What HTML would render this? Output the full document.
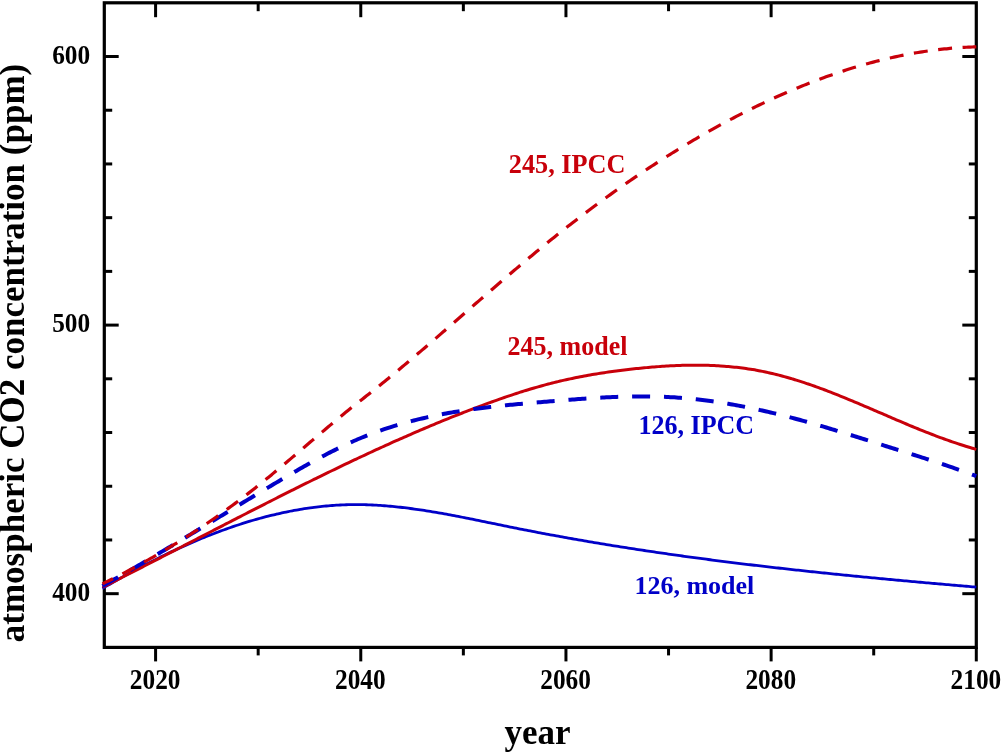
<!DOCTYPE html>
<html><head><meta charset="utf-8"><title>Atmospheric CO2 concentration</title>
<style>html,body{margin:0;padding:0;background:#fff;overflow:hidden;}svg{display:block;}</style>
</head><body>
<svg width="1002" height="752" viewBox="0 0 1002 752">
<rect width="1002" height="752" fill="#fff"/>
<g stroke="#000" stroke-width="3" fill="none"><rect x="104.30" y="2.80" width="872.00" height="644.60" fill="none" stroke="#000" stroke-width="3.2"/><line x1="155.59" y1="647.40" x2="155.59" y2="661.40"/><line x1="155.59" y1="2.80" x2="155.59" y2="17.20"/><line x1="258.18" y1="647.40" x2="258.18" y2="655.40"/><line x1="258.18" y1="2.80" x2="258.18" y2="11.20"/><line x1="360.77" y1="647.40" x2="360.77" y2="661.40"/><line x1="360.77" y1="2.80" x2="360.77" y2="17.20"/><line x1="463.36" y1="647.40" x2="463.36" y2="655.40"/><line x1="463.36" y1="2.80" x2="463.36" y2="11.20"/><line x1="565.95" y1="647.40" x2="565.95" y2="661.40"/><line x1="565.95" y1="2.80" x2="565.95" y2="17.20"/><line x1="668.54" y1="647.40" x2="668.54" y2="655.40"/><line x1="668.54" y1="2.80" x2="668.54" y2="11.20"/><line x1="771.12" y1="647.40" x2="771.12" y2="661.40"/><line x1="771.12" y1="2.80" x2="771.12" y2="17.20"/><line x1="873.71" y1="647.40" x2="873.71" y2="655.40"/><line x1="873.71" y1="2.80" x2="873.71" y2="11.20"/><line x1="976.30" y1="647.40" x2="976.30" y2="661.40"/><line x1="104.30" y1="593.68" x2="118.70" y2="593.68"/><line x1="976.30" y1="593.68" x2="962.30" y2="593.68"/><line x1="104.30" y1="539.97" x2="112.20" y2="539.97"/><line x1="976.30" y1="539.97" x2="968.80" y2="539.97"/><line x1="104.30" y1="486.25" x2="112.20" y2="486.25"/><line x1="976.30" y1="486.25" x2="968.80" y2="486.25"/><line x1="104.30" y1="432.53" x2="112.20" y2="432.53"/><line x1="976.30" y1="432.53" x2="968.80" y2="432.53"/><line x1="104.30" y1="378.82" x2="112.20" y2="378.82"/><line x1="976.30" y1="378.82" x2="968.80" y2="378.82"/><line x1="104.30" y1="325.10" x2="118.70" y2="325.10"/><line x1="976.30" y1="325.10" x2="962.30" y2="325.10"/><line x1="104.30" y1="271.38" x2="112.20" y2="271.38"/><line x1="976.30" y1="271.38" x2="968.80" y2="271.38"/><line x1="104.30" y1="217.67" x2="112.20" y2="217.67"/><line x1="976.30" y1="217.67" x2="968.80" y2="217.67"/><line x1="104.30" y1="163.95" x2="112.20" y2="163.95"/><line x1="976.30" y1="163.95" x2="968.80" y2="163.95"/><line x1="104.30" y1="110.23" x2="112.20" y2="110.23"/><line x1="976.30" y1="110.23" x2="968.80" y2="110.23"/><line x1="104.30" y1="56.52" x2="118.70" y2="56.52"/><line x1="976.30" y1="56.52" x2="962.30" y2="56.52"/></g>
<path d="M102.50,588.42 C102.80,588.25 103.33,587.94 104.30,587.38 C105.27,586.82 106.97,585.83 108.30,585.06 C109.63,584.29 110.97,583.52 112.30,582.76 C113.63,582.00 114.97,581.24 116.30,580.48 C117.63,579.73 118.97,578.98 120.30,578.23 C121.63,577.49 122.97,576.75 124.30,576.01 C125.63,575.27 126.97,574.54 128.30,573.81 C129.63,573.08 130.97,572.35 132.30,571.63 C133.63,570.91 134.97,570.19 136.30,569.48 C137.63,568.77 138.97,568.06 140.30,567.36 C141.63,566.66 142.97,565.96 144.30,565.27 C145.63,564.58 146.97,563.88 148.30,563.20 C149.63,562.52 150.97,561.84 152.30,561.16 C153.63,560.48 154.97,559.82 156.30,559.15 C157.63,558.48 158.97,557.82 160.30,557.16 C161.63,556.50 162.97,555.86 164.30,555.21 C165.63,554.56 166.97,553.92 168.30,553.28 C169.63,552.64 170.97,552.01 172.30,551.39 C173.63,550.76 174.97,550.15 176.30,549.53 C177.63,548.91 178.97,548.30 180.30,547.69 C181.63,547.08 182.97,546.49 184.30,545.89 C185.63,545.29 186.97,544.71 188.30,544.12 C189.63,543.53 190.97,542.95 192.30,542.38 C193.63,541.81 194.97,541.24 196.30,540.68 C197.63,540.12 198.97,539.56 200.30,539.01 C201.63,538.46 202.97,537.91 204.30,537.37 C205.63,536.83 206.97,536.30 208.30,535.77 C209.63,535.24 210.97,534.72 212.30,534.20 C213.63,533.68 214.97,533.17 216.30,532.67 C217.63,532.16 218.97,531.66 220.30,531.17 C221.63,530.68 222.97,530.19 224.30,529.71 C225.63,529.23 226.97,528.75 228.30,528.28 C229.63,527.81 230.97,527.35 232.30,526.89 C233.63,526.43 234.97,525.98 236.30,525.54 C237.63,525.10 238.97,524.66 240.30,524.23 C241.63,523.80 242.97,523.37 244.30,522.95 C245.63,522.53 246.97,522.12 248.30,521.71 C249.63,521.31 250.97,520.91 252.30,520.52 C253.63,520.13 254.97,519.74 256.30,519.36 C257.63,518.98 258.97,518.61 260.30,518.24 C261.63,517.87 262.97,517.51 264.30,517.16 C265.63,516.81 266.97,516.47 268.30,516.13 C269.63,515.79 270.97,515.46 272.30,515.13 C273.63,514.80 274.97,514.49 276.30,514.18 C277.63,513.87 278.97,513.57 280.30,513.27 C281.63,512.97 282.97,512.68 284.30,512.40 C285.63,512.12 286.97,511.84 288.30,511.57 C289.63,511.30 290.97,511.04 292.30,510.79 C293.63,510.54 294.97,510.30 296.30,510.06 C297.63,509.82 298.97,509.58 300.30,509.36 C301.63,509.14 302.97,508.93 304.30,508.72 C305.63,508.51 306.97,508.30 308.30,508.11 C309.63,507.92 310.97,507.74 312.30,507.56 C313.63,507.38 314.97,507.21 316.30,507.05 C317.63,506.89 318.97,506.74 320.30,506.59 C321.63,506.44 322.97,506.30 324.30,506.17 C325.63,506.04 326.97,505.92 328.30,505.80 C329.63,505.69 330.97,505.58 332.30,505.48 C333.63,505.38 334.97,505.29 336.30,505.21 C337.63,505.13 338.97,505.06 340.30,504.99 C341.63,504.93 342.97,504.87 344.30,504.82 C345.63,504.77 346.97,504.73 348.30,504.70 C349.63,504.67 350.97,504.64 352.30,504.63 C353.63,504.62 354.97,504.61 356.30,504.61 C357.63,504.61 358.97,504.61 360.30,504.63 C361.63,504.65 362.97,504.68 364.30,504.71 C365.63,504.74 366.97,504.78 368.30,504.83 C369.63,504.88 370.97,504.93 372.30,504.99 C373.63,505.05 374.97,505.12 376.30,505.20 C377.63,505.27 378.97,505.35 380.30,505.44 C381.63,505.53 382.97,505.63 384.30,505.73 C385.63,505.83 386.97,505.94 388.30,506.06 C389.63,506.18 390.97,506.29 392.30,506.42 C393.63,506.55 394.97,506.68 396.30,506.82 C397.63,506.96 398.97,507.10 400.30,507.25 C401.63,507.40 402.97,507.55 404.30,507.71 C405.63,507.87 406.97,508.04 408.30,508.21 C409.63,508.38 410.97,508.56 412.30,508.74 C413.63,508.92 414.97,509.10 416.30,509.29 C417.63,509.48 418.97,509.67 420.30,509.87 C421.63,510.07 422.97,510.27 424.30,510.48 C425.63,510.69 426.97,510.90 428.30,511.11 C429.63,511.32 430.97,511.54 432.30,511.76 C433.63,511.98 434.97,512.21 436.30,512.44 C437.63,512.67 438.97,512.90 440.30,513.14 C441.63,513.38 442.97,513.61 444.30,513.85 C445.63,514.09 446.97,514.33 448.30,514.58 C449.63,514.83 450.97,515.08 452.30,515.33 C453.63,515.58 454.97,515.84 456.30,516.09 C457.63,516.35 458.97,516.60 460.30,516.86 C461.63,517.12 462.97,517.38 464.30,517.64 C465.63,517.90 466.97,518.17 468.30,518.44 C469.63,518.71 470.97,518.97 472.30,519.24 C473.63,519.51 474.97,519.78 476.30,520.05 C477.63,520.32 478.97,520.60 480.30,520.87 C481.63,521.14 482.97,521.42 484.30,521.69 C485.63,521.96 486.97,522.24 488.30,522.51 C489.63,522.78 490.97,523.06 492.30,523.33 C493.63,523.61 494.97,523.88 496.30,524.16 C497.63,524.43 498.97,524.71 500.30,524.98 C501.63,525.25 502.97,525.53 504.30,525.80 C505.63,526.07 506.97,526.34 508.30,526.61 C509.63,526.88 510.97,527.15 512.30,527.42 C513.63,527.69 514.97,527.96 516.30,528.23 C517.63,528.50 518.97,528.76 520.30,529.02 C521.63,529.28 522.97,529.55 524.30,529.81 C525.63,530.07 526.97,530.33 528.30,530.59 C529.63,530.85 530.97,531.11 532.30,531.37 C533.63,531.63 534.97,531.88 536.30,532.13 C537.63,532.38 538.97,532.65 540.30,532.90 C541.63,533.15 542.97,533.40 544.30,533.65 C545.63,533.90 546.97,534.15 548.30,534.40 C549.63,534.65 550.97,534.89 552.30,535.14 C553.63,535.39 554.97,535.64 556.30,535.88 C557.63,536.12 558.97,536.36 560.30,536.60 C561.63,536.84 562.97,537.09 564.30,537.33 C565.63,537.57 566.97,537.80 568.30,538.04 C569.63,538.28 570.97,538.51 572.30,538.75 C573.63,538.99 574.97,539.22 576.30,539.45 C577.63,539.68 578.97,539.92 580.30,540.15 C581.63,540.38 582.97,540.61 584.30,540.84 C585.63,541.07 586.97,541.30 588.30,541.53 C589.63,541.76 590.97,541.99 592.30,542.21 C593.63,542.44 594.97,542.66 596.30,542.88 C597.63,543.10 598.97,543.33 600.30,543.55 C601.63,543.77 602.97,543.99 604.30,544.21 C605.63,544.43 606.97,544.64 608.30,544.86 C609.63,545.08 610.97,545.29 612.30,545.51 C613.63,545.73 614.97,545.94 616.30,546.15 C617.63,546.36 618.97,546.58 620.30,546.79 C621.63,547.00 622.97,547.21 624.30,547.42 C625.63,547.63 626.97,547.84 628.30,548.05 C629.63,548.26 630.97,548.46 632.30,548.67 C633.63,548.88 634.97,549.08 636.30,549.29 C637.63,549.50 638.97,549.70 640.30,549.90 C641.63,550.10 642.97,550.30 644.30,550.50 C645.63,550.70 646.97,550.90 648.30,551.10 C649.63,551.30 650.97,551.50 652.30,551.70 C653.63,551.90 654.97,552.10 656.30,552.29 C657.63,552.48 658.97,552.68 660.30,552.87 C661.63,553.06 662.97,553.26 664.30,553.45 C665.63,553.64 666.97,553.83 668.30,554.02 C669.63,554.21 670.97,554.40 672.30,554.59 C673.63,554.78 674.97,554.97 676.30,555.16 C677.63,555.35 678.97,555.53 680.30,555.71 C681.63,555.89 682.97,556.09 684.30,556.27 C685.63,556.45 686.97,556.64 688.30,556.82 C689.63,557.00 690.97,557.18 692.30,557.36 C693.63,557.54 694.97,557.72 696.30,557.90 C697.63,558.08 698.97,558.26 700.30,558.44 C701.63,558.62 702.97,558.80 704.30,558.97 C705.63,559.14 706.97,559.32 708.30,559.49 C709.63,559.66 710.97,559.85 712.30,560.02 C713.63,560.19 714.97,560.36 716.30,560.53 C717.63,560.70 718.97,560.88 720.30,561.05 C721.63,561.22 722.97,561.38 724.30,561.55 C725.63,561.72 726.97,561.89 728.30,562.06 C729.63,562.23 730.97,562.39 732.30,562.56 C733.63,562.72 734.97,562.89 736.30,563.05 C737.63,563.21 738.97,563.38 740.30,563.54 C741.63,563.70 742.97,563.87 744.30,564.03 C745.63,564.19 746.97,564.36 748.30,564.52 C749.63,564.68 750.97,564.84 752.30,565.00 C753.63,565.16 754.97,565.31 756.30,565.47 C757.63,565.63 758.97,565.78 760.30,565.94 C761.63,566.10 762.97,566.25 764.30,566.41 C765.63,566.56 766.97,566.72 768.30,566.87 C769.63,567.02 770.97,567.19 772.30,567.34 C773.63,567.49 774.97,567.64 776.30,567.79 C777.63,567.94 778.97,568.09 780.30,568.24 C781.63,568.39 782.97,568.54 784.30,568.69 C785.63,568.84 786.97,568.99 788.30,569.14 C789.63,569.29 790.97,569.43 792.30,569.58 C793.63,569.73 794.97,569.87 796.30,570.02 C797.63,570.17 798.97,570.32 800.30,570.46 C801.63,570.61 802.97,570.75 804.30,570.89 C805.63,571.03 806.97,571.18 808.30,571.32 C809.63,571.46 810.97,571.61 812.30,571.75 C813.63,571.89 814.97,572.03 816.30,572.17 C817.63,572.31 818.97,572.45 820.30,572.59 C821.63,572.73 822.97,572.87 824.30,573.01 C825.63,573.15 826.97,573.28 828.30,573.42 C829.63,573.56 830.97,573.69 832.30,573.83 C833.63,573.97 834.97,574.10 836.30,574.24 C837.63,574.38 838.97,574.51 840.30,574.65 C841.63,574.78 842.97,574.92 844.30,575.05 C845.63,575.18 846.97,575.32 848.30,575.45 C849.63,575.58 850.97,575.71 852.30,575.84 C853.63,575.97 854.97,576.11 856.30,576.24 C857.63,576.37 858.97,576.50 860.30,576.63 C861.63,576.76 862.97,576.89 864.30,577.02 C865.63,577.15 866.97,577.28 868.30,577.41 C869.63,577.54 870.97,577.66 872.30,577.79 C873.63,577.92 874.97,578.04 876.30,578.17 C877.63,578.30 878.97,578.42 880.30,578.55 C881.63,578.68 882.97,578.80 884.30,578.93 C885.63,579.06 886.97,579.18 888.30,579.31 C889.63,579.43 890.97,579.56 892.30,579.68 C893.63,579.80 894.97,579.93 896.30,580.05 C897.63,580.17 898.97,580.30 900.30,580.42 C901.63,580.54 902.97,580.67 904.30,580.79 C905.63,580.91 906.97,581.03 908.30,581.15 C909.63,581.27 910.97,581.40 912.30,581.52 C913.63,581.64 914.97,581.76 916.30,581.88 C917.63,582.00 918.97,582.12 920.30,582.24 C921.63,582.36 922.97,582.48 924.30,582.60 C925.63,582.72 926.97,582.83 928.30,582.95 C929.63,583.07 930.97,583.19 932.30,583.31 C933.63,583.43 934.97,583.54 936.30,583.66 C937.63,583.78 938.97,583.89 940.30,584.01 C941.63,584.13 942.97,584.24 944.30,584.36 C945.63,584.48 946.97,584.59 948.30,584.71 C949.63,584.83 950.97,584.94 952.30,585.06 C953.63,585.17 954.97,585.28 956.30,585.40 C957.63,585.51 958.97,585.63 960.30,585.75 C961.63,585.87 962.97,585.98 964.30,586.09 C965.63,586.20 966.97,586.31 968.30,586.43 C969.63,586.54 970.97,586.66 972.30,586.78 C973.63,586.89 975.63,587.06 976.30,587.12" fill="none" stroke="#0000c8" stroke-width="2.8"/>
<path d="M102.50,587.28 C102.80,587.13 103.33,586.86 104.30,586.37 C105.27,585.88 106.97,585.02 108.30,584.35 C109.63,583.68 110.97,583.01 112.30,582.34 C113.63,581.67 114.97,580.98 116.30,580.31 C117.63,579.63 118.97,578.97 120.30,578.29 C121.63,577.61 122.97,576.93 124.30,576.25 C125.63,575.57 126.97,574.90 128.30,574.22 C129.63,573.54 130.97,572.86 132.30,572.18 C133.63,571.50 134.97,570.82 136.30,570.14 C137.63,569.46 138.97,568.77 140.30,568.09 C141.63,567.41 142.97,566.72 144.30,566.04 C145.63,565.36 146.97,564.67 148.30,563.99 C149.63,563.31 150.97,562.62 152.30,561.94 C153.63,561.26 154.97,560.57 156.30,559.88 C157.63,559.19 158.97,558.51 160.30,557.82 C161.63,557.13 162.97,556.45 164.30,555.76 C165.63,555.07 166.97,554.39 168.30,553.70 C169.63,553.01 170.97,552.33 172.30,551.64 C173.63,550.95 174.97,550.26 176.30,549.57 C177.63,548.88 178.97,548.20 180.30,547.51 C181.63,546.82 182.97,546.13 184.30,545.44 C185.63,544.75 186.97,544.06 188.30,543.37 C189.63,542.68 190.97,542.00 192.30,541.31 C193.63,540.62 194.97,539.93 196.30,539.24 C197.63,538.55 198.97,537.86 200.30,537.17 C201.63,536.48 202.97,535.80 204.30,535.11 C205.63,534.42 206.97,533.73 208.30,533.04 C209.63,532.35 210.97,531.66 212.30,530.97 C213.63,530.28 214.97,529.60 216.30,528.91 C217.63,528.22 218.97,527.54 220.30,526.85 C221.63,526.16 222.97,525.47 224.30,524.78 C225.63,524.09 226.97,523.40 228.30,522.72 C229.63,522.04 230.97,521.36 232.30,520.67 C233.63,519.98 234.97,519.30 236.30,518.61 C237.63,517.92 238.97,517.24 240.30,516.56 C241.63,515.88 242.97,515.18 244.30,514.50 C245.63,513.82 246.97,513.14 248.30,512.46 C249.63,511.78 250.97,511.09 252.30,510.41 C253.63,509.73 254.97,509.05 256.30,508.37 C257.63,507.69 258.97,507.01 260.30,506.33 C261.63,505.65 262.97,504.98 264.30,504.30 C265.63,503.62 266.97,502.94 268.30,502.26 C269.63,501.58 270.97,500.91 272.30,500.24 C273.63,499.57 274.97,498.89 276.30,498.22 C277.63,497.55 278.97,496.87 280.30,496.20 C281.63,495.53 282.97,494.85 284.30,494.18 C285.63,493.51 286.97,492.85 288.30,492.18 C289.63,491.51 290.97,490.84 292.30,490.17 C293.63,489.50 294.97,488.85 296.30,488.18 C297.63,487.51 298.97,486.84 300.30,486.18 C301.63,485.52 302.97,484.86 304.30,484.20 C305.63,483.54 306.97,482.88 308.30,482.22 C309.63,481.56 310.97,480.91 312.30,480.25 C313.63,479.59 314.97,478.93 316.30,478.28 C317.63,477.62 318.97,476.97 320.30,476.32 C321.63,475.67 322.97,475.02 324.30,474.37 C325.63,473.72 326.97,473.07 328.30,472.42 C329.63,471.77 330.97,471.13 332.30,470.49 C333.63,469.85 334.97,469.20 336.30,468.56 C337.63,467.92 338.97,467.27 340.30,466.63 C341.63,465.99 342.97,465.36 344.30,464.72 C345.63,464.08 346.97,463.44 348.30,462.81 C349.63,462.18 350.97,461.55 352.30,460.92 C353.63,460.29 354.97,459.66 356.30,459.03 C357.63,458.40 358.97,457.77 360.30,457.15 C361.63,456.52 362.97,455.90 364.30,455.28 C365.63,454.66 366.97,454.04 368.30,453.42 C369.63,452.80 370.97,452.19 372.30,451.57 C373.63,450.95 374.97,450.34 376.30,449.73 C377.63,449.12 378.97,448.51 380.30,447.90 C381.63,447.29 382.97,446.69 384.30,446.08 C385.63,445.47 386.97,444.87 388.30,444.27 C389.63,443.67 390.97,443.07 392.30,442.47 C393.63,441.87 394.97,441.27 396.30,440.68 C397.63,440.09 398.97,439.50 400.30,438.91 C401.63,438.32 402.97,437.73 404.30,437.14 C405.63,436.55 406.97,435.97 408.30,435.39 C409.63,434.81 410.97,434.23 412.30,433.65 C413.63,433.07 414.97,432.49 416.30,431.92 C417.63,431.35 418.97,430.78 420.30,430.21 C421.63,429.64 422.97,429.07 424.30,428.50 C425.63,427.93 426.97,427.37 428.30,426.81 C429.63,426.25 430.97,425.69 432.30,425.13 C433.63,424.57 434.97,424.02 436.30,423.47 C437.63,422.92 438.97,422.37 440.30,421.82 C441.63,421.27 442.97,420.73 444.30,420.19 C445.63,419.65 446.97,419.10 448.30,418.56 C449.63,418.02 450.97,417.49 452.30,416.96 C453.63,416.43 454.97,415.89 456.30,415.36 C457.63,414.83 458.97,414.31 460.30,413.79 C461.63,413.27 462.97,412.74 464.30,412.22 C465.63,411.70 466.97,411.19 468.30,410.68 C469.63,410.17 470.97,409.66 472.30,409.15 C473.63,408.64 474.97,408.13 476.30,407.63 C477.63,407.13 478.97,406.63 480.30,406.13 C481.63,405.63 482.97,405.14 484.30,404.65 C485.63,404.16 486.97,403.68 488.30,403.19 C489.63,402.70 490.97,402.22 492.30,401.74 C493.63,401.26 494.97,400.78 496.30,400.31 C497.63,399.84 498.97,399.37 500.30,398.90 C501.63,398.43 502.97,397.97 504.30,397.51 C505.63,397.05 506.97,396.59 508.30,396.14 C509.63,395.69 510.97,395.24 512.30,394.80 C513.63,394.36 514.97,393.92 516.30,393.48 C517.63,393.05 518.97,392.62 520.30,392.19 C521.63,391.76 522.97,391.35 524.30,390.93 C525.63,390.51 526.97,390.11 528.30,389.70 C529.63,389.29 530.97,388.89 532.30,388.50 C533.63,388.11 534.97,387.71 536.30,387.33 C537.63,386.95 538.97,386.57 540.30,386.20 C541.63,385.83 542.97,385.46 544.30,385.10 C545.63,384.74 546.97,384.39 548.30,384.04 C549.63,383.69 550.97,383.35 552.30,383.01 C553.63,382.67 554.97,382.34 556.30,382.02 C557.63,381.70 558.97,381.38 560.30,381.07 C561.63,380.76 562.97,380.45 564.30,380.15 C565.63,379.85 566.97,379.55 568.30,379.26 C569.63,378.97 570.97,378.69 572.30,378.41 C573.63,378.13 574.97,377.85 576.30,377.58 C577.63,377.31 578.97,377.05 580.30,376.79 C581.63,376.53 582.97,376.28 584.30,376.03 C585.63,375.78 586.97,375.54 588.30,375.30 C589.63,375.06 590.97,374.83 592.30,374.60 C593.63,374.37 594.97,374.14 596.30,373.92 C597.63,373.70 598.97,373.49 600.30,373.28 C601.63,373.07 602.97,372.86 604.30,372.66 C605.63,372.46 606.97,372.26 608.30,372.07 C609.63,371.88 610.97,371.69 612.30,371.50 C613.63,371.31 614.97,371.14 616.30,370.96 C617.63,370.78 618.97,370.61 620.30,370.44 C621.63,370.27 622.97,370.11 624.30,369.95 C625.63,369.79 626.97,369.62 628.30,369.47 C629.63,369.32 630.97,369.16 632.30,369.02 C633.63,368.88 634.97,368.74 636.30,368.60 C637.63,368.46 638.97,368.32 640.30,368.19 C641.63,368.06 642.97,367.93 644.30,367.80 C645.63,367.67 646.97,367.55 648.30,367.43 C649.63,367.31 650.97,367.20 652.30,367.09 C653.63,366.98 654.97,366.87 656.30,366.77 C657.63,366.67 658.97,366.57 660.30,366.48 C661.63,366.39 662.97,366.29 664.30,366.21 C665.63,366.12 666.97,366.05 668.30,365.97 C669.63,365.90 670.97,365.82 672.30,365.76 C673.63,365.69 674.97,365.63 676.30,365.58 C677.63,365.52 678.97,365.48 680.30,365.43 C681.63,365.38 682.97,365.34 684.30,365.31 C685.63,365.28 686.97,365.25 688.30,365.23 C689.63,365.21 690.97,365.19 692.30,365.18 C693.63,365.17 694.97,365.17 696.30,365.17 C697.63,365.17 698.97,365.18 700.30,365.19 C701.63,365.20 702.97,365.23 704.30,365.26 C705.63,365.29 706.97,365.32 708.30,365.36 C709.63,365.40 710.97,365.45 712.30,365.51 C713.63,365.57 714.97,365.63 716.30,365.70 C717.63,365.77 718.97,365.85 720.30,365.93 C721.63,366.01 722.97,366.11 724.30,366.21 C725.63,366.31 726.97,366.42 728.30,366.54 C729.63,366.66 730.97,366.78 732.30,366.91 C733.63,367.04 734.97,367.18 736.30,367.33 C737.63,367.48 738.97,367.63 740.30,367.80 C741.63,367.97 742.97,368.14 744.30,368.32 C745.63,368.50 746.97,368.70 748.30,368.90 C749.63,369.10 750.97,369.31 752.30,369.53 C753.63,369.75 754.97,369.97 756.30,370.21 C757.63,370.45 758.97,370.69 760.30,370.95 C761.63,371.21 762.97,371.48 764.30,371.75 C765.63,372.02 766.97,372.31 768.30,372.60 C769.63,372.90 770.97,373.20 772.30,373.52 C773.63,373.83 774.97,374.16 776.30,374.49 C777.63,374.82 778.97,375.16 780.30,375.51 C781.63,375.86 782.97,376.22 784.30,376.59 C785.63,376.96 786.97,377.34 788.30,377.72 C789.63,378.10 790.97,378.49 792.30,378.89 C793.63,379.29 794.97,379.69 796.30,380.11 C797.63,380.53 798.97,380.95 800.30,381.38 C801.63,381.81 802.97,382.25 804.30,382.69 C805.63,383.13 806.97,383.57 808.30,384.03 C809.63,384.48 810.97,384.95 812.30,385.42 C813.63,385.89 814.97,386.36 816.30,386.84 C817.63,387.32 818.97,387.81 820.30,388.30 C821.63,388.79 822.97,389.28 824.30,389.78 C825.63,390.28 826.97,390.79 828.30,391.30 C829.63,391.81 830.97,392.33 832.30,392.85 C833.63,393.37 834.97,393.89 836.30,394.42 C837.63,394.95 838.97,395.48 840.30,396.02 C841.63,396.56 842.97,397.10 844.30,397.64 C845.63,398.18 846.97,398.73 848.30,399.28 C849.63,399.83 850.97,400.38 852.30,400.94 C853.63,401.50 854.97,402.06 856.30,402.62 C857.63,403.18 858.97,403.74 860.30,404.30 C861.63,404.87 862.97,405.44 864.30,406.01 C865.63,406.58 866.97,407.15 868.30,407.72 C869.63,408.29 870.97,408.86 872.30,409.43 C873.63,410.00 874.97,410.59 876.30,411.16 C877.63,411.74 878.97,412.31 880.30,412.88 C881.63,413.45 882.97,414.04 884.30,414.61 C885.63,415.19 886.97,415.76 888.30,416.33 C889.63,416.90 890.97,417.48 892.30,418.05 C893.63,418.62 894.97,419.19 896.30,419.76 C897.63,420.33 898.97,420.89 900.30,421.46 C901.63,422.03 902.97,422.60 904.30,423.16 C905.63,423.72 906.97,424.27 908.30,424.83 C909.63,425.39 910.97,425.95 912.30,426.50 C913.63,427.05 914.97,427.59 916.30,428.14 C917.63,428.69 918.97,429.23 920.30,429.77 C921.63,430.31 922.97,430.84 924.30,431.37 C925.63,431.90 926.97,432.43 928.30,432.95 C929.63,433.47 930.97,434.00 932.30,434.51 C933.63,435.02 934.97,435.53 936.30,436.03 C937.63,436.53 938.97,437.03 940.30,437.53 C941.63,438.02 942.97,438.52 944.30,439.00 C945.63,439.48 946.97,439.96 948.30,440.43 C949.63,440.90 950.97,441.36 952.30,441.82 C953.63,442.28 954.97,442.73 956.30,443.18 C957.63,443.63 958.97,444.07 960.30,444.50 C961.63,444.93 962.97,445.35 964.30,445.77 C965.63,446.19 966.97,446.60 968.30,447.00 C969.63,447.40 970.97,447.80 972.30,448.19 C973.63,448.58 975.63,449.13 976.30,449.32" fill="none" stroke="#c8000a" stroke-width="3"/>
<path d="M102.50,585.88 C102.80,585.71 103.33,585.42 104.30,584.88 C105.27,584.34 106.97,583.40 108.30,582.66 C109.63,581.92 110.97,581.17 112.30,580.42 C113.63,579.67 114.97,578.91 116.30,578.16 C117.63,577.40 118.97,576.65 120.30,575.89 C121.63,575.13 122.97,574.37 124.30,573.61 C125.63,572.85 126.97,572.09 128.30,571.32 C129.63,570.55 130.97,569.78 132.30,569.01 C133.63,568.24 134.97,567.47 136.30,566.70 C137.63,565.93 138.97,565.15 140.30,564.37 C141.63,563.59 142.97,562.81 144.30,562.03 C145.63,561.25 146.97,560.46 148.30,559.68 C149.63,558.90 150.97,558.12 152.30,557.33 C153.63,556.54 154.97,555.75 156.30,554.96 C157.63,554.17 158.97,553.38 160.30,552.59 C161.63,551.80 162.97,551.00 164.30,550.21 C165.63,549.42 166.97,548.62 168.30,547.82 C169.63,547.02 170.97,546.23 172.30,545.43 C173.63,544.63 174.97,543.83 176.30,543.03 C177.63,542.23 178.97,541.42 180.30,540.62 C181.63,539.82 182.97,539.01 184.30,538.21 C185.63,537.41 186.97,536.61 188.30,535.80 C189.63,534.99 190.97,534.19 192.30,533.38 C193.63,532.57 194.97,531.77 196.30,530.96 C197.63,530.15 198.97,529.35 200.30,528.54 C201.63,527.73 202.97,526.92 204.30,526.11 C205.63,525.30 206.97,524.49 208.30,523.68 C209.63,522.87 210.97,522.06 212.30,521.25 C213.63,520.44 214.97,519.63 216.30,518.82 C217.63,518.01 218.97,517.20 220.30,516.39 C221.63,515.58 222.97,514.77 224.30,513.96 C225.63,513.15 226.97,512.34 228.30,511.53 C229.63,510.72 230.97,509.91 232.30,509.10 C233.63,508.29 234.97,507.48 236.30,506.67 C237.63,505.86 238.97,505.06 240.30,504.25 C241.63,503.44 242.97,502.64 244.30,501.83 C245.63,501.02 246.97,500.22 248.30,499.41 C249.63,498.60 250.97,497.80 252.30,496.99 C253.63,496.19 254.97,495.38 256.30,494.58 C257.63,493.78 258.97,492.98 260.30,492.18 C261.63,491.38 262.97,490.58 264.30,489.78 C265.63,488.98 266.97,488.19 268.30,487.39 C269.63,486.59 270.97,485.80 272.30,485.00 C273.63,484.20 274.97,483.41 276.30,482.62 C277.63,481.83 278.97,481.04 280.30,480.25 C281.63,479.46 282.97,478.67 284.30,477.89 C285.63,477.11 286.97,476.32 288.30,475.54 C289.63,474.76 290.97,473.98 292.30,473.21 C293.63,472.44 294.97,471.67 296.30,470.90 C297.63,470.13 298.97,469.36 300.30,468.60 C301.63,467.84 302.97,467.08 304.30,466.33 C305.63,465.58 306.97,464.83 308.30,464.09 C309.63,463.35 310.97,462.61 312.30,461.87 C313.63,461.13 314.97,460.41 316.30,459.68 C317.63,458.95 318.97,458.23 320.30,457.52 C321.63,456.81 322.97,456.10 324.30,455.40 C325.63,454.70 326.97,454.01 328.30,453.32 C329.63,452.63 330.97,451.94 332.30,451.27 C333.63,450.59 334.97,449.93 336.30,449.27 C337.63,448.61 338.97,447.95 340.30,447.31 C341.63,446.67 342.97,446.03 344.30,445.40 C345.63,444.77 346.97,444.14 348.30,443.53 C349.63,442.92 350.97,442.32 352.30,441.72 C353.63,441.12 354.97,440.54 356.30,439.96 C357.63,439.38 358.97,438.82 360.30,438.26 C361.63,437.70 362.97,437.15 364.30,436.61 C365.63,436.07 366.97,435.54 368.30,435.02 C369.63,434.50 370.97,433.99 372.30,433.49 C373.63,432.99 374.97,432.49 376.30,432.00 C377.63,431.51 378.97,431.04 380.30,430.57 C381.63,430.10 382.97,429.64 384.30,429.19 C385.63,428.74 386.97,428.30 388.30,427.86 C389.63,427.43 390.97,427.00 392.30,426.58 C393.63,426.16 394.97,425.75 396.30,425.35 C397.63,424.95 398.97,424.55 400.30,424.16 C401.63,423.77 402.97,423.39 404.30,423.02 C405.63,422.65 406.97,422.28 408.30,421.92 C409.63,421.56 410.97,421.21 412.30,420.86 C413.63,420.51 414.97,420.17 416.30,419.84 C417.63,419.51 418.97,419.19 420.30,418.87 C421.63,418.55 422.97,418.24 424.30,417.93 C425.63,417.62 426.97,417.32 428.30,417.03 C429.63,416.74 430.97,416.45 432.30,416.17 C433.63,415.89 434.97,415.61 436.30,415.34 C437.63,415.07 438.97,414.80 440.30,414.54 C441.63,414.28 442.97,414.03 444.30,413.78 C445.63,413.53 446.97,413.29 448.30,413.05 C449.63,412.81 450.97,412.58 452.30,412.35 C453.63,412.12 454.97,411.90 456.30,411.68 C457.63,411.46 458.97,411.25 460.30,411.04 C461.63,410.83 462.97,410.62 464.30,410.42 C465.63,410.22 466.97,410.02 468.30,409.83 C469.63,409.64 470.97,409.44 472.30,409.26 C473.63,409.07 474.97,408.90 476.30,408.72 C477.63,408.54 478.97,408.37 480.30,408.20 C481.63,408.03 482.97,407.86 484.30,407.69 C485.63,407.52 486.97,407.37 488.30,407.21 C489.63,407.05 490.97,406.90 492.30,406.75 C493.63,406.60 494.97,406.45 496.30,406.30 C497.63,406.15 498.97,406.01 500.30,405.87 C501.63,405.73 502.97,405.59 504.30,405.45 C505.63,405.31 506.97,405.18 508.30,405.05 C509.63,404.92 510.97,404.79 512.30,404.66 C513.63,404.53 514.97,404.40 516.30,404.28 C517.63,404.15 518.97,404.03 520.30,403.91 C521.63,403.79 522.97,403.66 524.30,403.54 C525.63,403.42 526.97,403.31 528.30,403.19 C529.63,403.07 530.97,402.95 532.30,402.84 C533.63,402.72 534.97,402.61 536.30,402.50 C537.63,402.39 538.97,402.27 540.30,402.16 C541.63,402.05 542.97,401.93 544.30,401.82 C545.63,401.71 546.97,401.59 548.30,401.48 C549.63,401.37 550.97,401.26 552.30,401.15 C553.63,401.04 554.97,400.93 556.30,400.82 C557.63,400.71 558.97,400.60 560.30,400.49 C561.63,400.38 562.97,400.27 564.30,400.16 C565.63,400.05 566.97,399.95 568.30,399.85 C569.63,399.75 570.97,399.64 572.30,399.54 C573.63,399.44 574.97,399.33 576.30,399.23 C577.63,399.13 578.97,399.03 580.30,398.94 C581.63,398.85 582.97,398.75 584.30,398.66 C585.63,398.57 586.97,398.48 588.30,398.39 C589.63,398.30 590.97,398.21 592.30,398.13 C593.63,398.05 594.97,397.96 596.30,397.88 C597.63,397.80 598.97,397.72 600.30,397.65 C601.63,397.58 602.97,397.51 604.30,397.44 C605.63,397.37 606.97,397.30 608.30,397.24 C609.63,397.18 610.97,397.12 612.30,397.06 C613.63,397.00 614.97,396.95 616.30,396.90 C617.63,396.85 618.97,396.80 620.30,396.76 C621.63,396.72 622.97,396.68 624.30,396.64 C625.63,396.60 626.97,396.57 628.30,396.54 C629.63,396.51 630.97,396.48 632.30,396.46 C633.63,396.44 634.97,396.42 636.30,396.41 C637.63,396.40 638.97,396.39 640.30,396.39 C641.63,396.39 642.97,396.38 644.30,396.39 C645.63,396.39 646.97,396.41 648.30,396.42 C649.63,396.44 650.97,396.46 652.30,396.48 C653.63,396.50 654.97,396.53 656.30,396.57 C657.63,396.61 658.97,396.64 660.30,396.69 C661.63,396.74 662.97,396.78 664.30,396.84 C665.63,396.90 666.97,396.96 668.30,397.03 C669.63,397.10 670.97,397.16 672.30,397.24 C673.63,397.32 674.97,397.41 676.30,397.50 C677.63,397.59 678.97,397.69 680.30,397.79 C681.63,397.89 682.97,398.00 684.30,398.11 C685.63,398.22 686.97,398.35 688.30,398.47 C689.63,398.60 690.97,398.73 692.30,398.86 C693.63,399.00 694.97,399.13 696.30,399.28 C697.63,399.43 698.97,399.58 700.30,399.74 C701.63,399.90 702.97,400.05 704.30,400.22 C705.63,400.39 706.97,400.56 708.30,400.74 C709.63,400.92 710.97,401.10 712.30,401.29 C713.63,401.48 714.97,401.67 716.30,401.87 C717.63,402.07 718.97,402.27 720.30,402.48 C721.63,402.69 722.97,402.90 724.30,403.12 C725.63,403.34 726.97,403.55 728.30,403.78 C729.63,404.01 730.97,404.24 732.30,404.48 C733.63,404.72 734.97,404.95 736.30,405.20 C737.63,405.44 738.97,405.70 740.30,405.95 C741.63,406.20 742.97,406.46 744.30,406.72 C745.63,406.98 746.97,407.25 748.30,407.52 C749.63,407.79 750.97,408.07 752.30,408.35 C753.63,408.63 754.97,408.91 756.30,409.20 C757.63,409.49 758.97,409.78 760.30,410.08 C761.63,410.38 762.97,410.67 764.30,410.97 C765.63,411.27 766.97,411.59 768.30,411.90 C769.63,412.21 770.97,412.52 772.30,412.84 C773.63,413.16 774.97,413.48 776.30,413.81 C777.63,414.14 778.97,414.47 780.30,414.80 C781.63,415.13 782.97,415.47 784.30,415.81 C785.63,416.15 786.97,416.49 788.30,416.84 C789.63,417.19 790.97,417.54 792.30,417.89 C793.63,418.24 794.97,418.60 796.30,418.96 C797.63,419.32 798.97,419.68 800.30,420.04 C801.63,420.41 802.97,420.78 804.30,421.15 C805.63,421.52 806.97,421.90 808.30,422.28 C809.63,422.66 810.97,423.04 812.30,423.42 C813.63,423.80 814.97,424.18 816.30,424.57 C817.63,424.96 818.97,425.35 820.30,425.74 C821.63,426.13 822.97,426.52 824.30,426.92 C825.63,427.32 826.97,427.72 828.30,428.12 C829.63,428.52 830.97,428.93 832.30,429.33 C833.63,429.73 834.97,430.13 836.30,430.54 C837.63,430.95 838.97,431.36 840.30,431.77 C841.63,432.18 842.97,432.60 844.30,433.01 C845.63,433.42 846.97,433.83 848.30,434.25 C849.63,434.67 850.97,435.08 852.30,435.50 C853.63,435.92 854.97,436.33 856.30,436.75 C857.63,437.17 858.97,437.59 860.30,438.01 C861.63,438.43 862.97,438.85 864.30,439.27 C865.63,439.69 866.97,440.12 868.30,440.54 C869.63,440.96 870.97,441.38 872.30,441.80 C873.63,442.22 874.97,442.65 876.30,443.07 C877.63,443.49 878.97,443.91 880.30,444.33 C881.63,444.75 882.97,445.18 884.30,445.60 C885.63,446.02 886.97,446.44 888.30,446.86 C889.63,447.28 890.97,447.70 892.30,448.12 C893.63,448.54 894.97,448.96 896.30,449.38 C897.63,449.80 898.97,450.21 900.30,450.63 C901.63,451.05 902.97,451.46 904.30,451.88 C905.63,452.30 906.97,452.72 908.30,453.14 C909.63,453.56 910.97,453.98 912.30,454.40 C913.63,454.82 914.97,455.24 916.30,455.66 C917.63,456.08 918.97,456.50 920.30,456.93 C921.63,457.36 922.97,457.78 924.30,458.21 C925.63,458.64 926.97,459.06 928.30,459.49 C929.63,459.92 930.97,460.36 932.30,460.79 C933.63,461.23 934.97,461.66 936.30,462.10 C937.63,462.54 938.97,462.98 940.30,463.42 C941.63,463.86 942.97,464.31 944.30,464.76 C945.63,465.21 946.97,465.66 948.30,466.11 C949.63,466.56 950.97,467.02 952.30,467.48 C953.63,467.94 954.97,468.40 956.30,468.87 C957.63,469.34 958.97,469.80 960.30,470.28 C961.63,470.75 962.97,471.24 964.30,471.72 C965.63,472.20 966.97,472.68 968.30,473.17 C969.63,473.66 970.97,474.16 972.30,474.66 C973.63,475.16 975.63,475.92 976.30,476.17" fill="none" stroke="#0000c8" stroke-width="4" stroke-dasharray="18 13.874" stroke-dashoffset="0.08"/>
<path d="M102.50,583.81 C102.80,583.66 103.33,583.40 104.30,582.92 C105.27,582.44 106.97,581.61 108.30,580.95 C109.63,580.29 110.97,579.62 112.30,578.95 C113.63,578.28 114.97,577.61 116.30,576.93 C117.63,576.25 118.97,575.57 120.30,574.88 C121.63,574.19 122.97,573.50 124.30,572.81 C125.63,572.12 126.97,571.41 128.30,570.71 C129.63,570.01 130.97,569.29 132.30,568.58 C133.63,567.87 134.97,567.15 136.30,566.43 C137.63,565.71 138.97,564.98 140.30,564.25 C141.63,563.52 142.97,562.77 144.30,562.03 C145.63,561.29 146.97,560.54 148.30,559.79 C149.63,559.04 150.97,558.29 152.30,557.53 C153.63,556.77 154.97,556.00 156.30,555.23 C157.63,554.46 158.97,553.68 160.30,552.90 C161.63,552.12 162.97,551.33 164.30,550.54 C165.63,549.75 166.97,548.95 168.30,548.15 C169.63,547.35 170.97,546.54 172.30,545.73 C173.63,544.92 174.97,544.10 176.30,543.28 C177.63,542.46 178.97,541.63 180.30,540.80 C181.63,539.97 182.97,539.12 184.30,538.28 C185.63,537.44 186.97,536.59 188.30,535.74 C189.63,534.89 190.97,534.03 192.30,533.16 C193.63,532.29 194.97,531.42 196.30,530.54 C197.63,529.66 198.97,528.79 200.30,527.90 C201.63,527.01 202.97,526.12 204.30,525.22 C205.63,524.32 206.97,523.41 208.30,522.50 C209.63,521.59 210.97,520.67 212.30,519.75 C213.63,518.83 214.97,517.90 216.30,516.97 C217.63,516.04 218.97,515.10 220.30,514.15 C221.63,513.20 222.97,512.25 224.30,511.29 C225.63,510.33 226.97,509.37 228.30,508.40 C229.63,507.43 230.97,506.45 232.30,505.47 C233.63,504.49 234.97,503.50 236.30,502.50 C237.63,501.50 238.97,500.51 240.30,499.50 C241.63,498.49 242.97,497.47 244.30,496.45 C245.63,495.43 246.97,494.40 248.30,493.37 C249.63,492.34 250.97,491.31 252.30,490.26 C253.63,489.21 254.97,488.16 256.30,487.10 C257.63,486.04 258.97,484.98 260.30,483.91 C261.63,482.84 262.97,481.76 264.30,480.68 C265.63,479.60 266.97,478.51 268.30,477.42 C269.63,476.33 270.97,475.24 272.30,474.14 C273.63,473.04 274.97,471.94 276.30,470.83 C277.63,469.72 278.97,468.61 280.30,467.50 C281.63,466.39 282.97,465.27 284.30,464.15 C285.63,463.03 286.97,461.90 288.30,460.78 C289.63,459.65 290.97,458.53 292.30,457.40 C293.63,456.27 294.97,455.14 296.30,454.01 C297.63,452.88 298.97,451.75 300.30,450.61 C301.63,449.48 302.97,448.34 304.30,447.20 C305.63,446.06 306.97,444.93 308.30,443.79 C309.63,442.66 310.97,441.52 312.30,440.39 C313.63,439.25 314.97,438.11 316.30,436.98 C317.63,435.85 318.97,434.72 320.30,433.59 C321.63,432.46 322.97,431.33 324.30,430.20 C325.63,429.07 326.97,427.94 328.30,426.82 C329.63,425.70 330.97,424.58 332.30,423.46 C333.63,422.34 334.97,421.22 336.30,420.11 C337.63,419.00 338.97,417.88 340.30,416.78 C341.63,415.67 342.97,414.58 344.30,413.48 C345.63,412.38 346.97,411.28 348.30,410.20 C349.63,409.12 350.97,408.06 352.30,407.00 C353.63,405.94 354.97,404.90 356.30,403.86 C357.63,402.82 358.97,401.78 360.30,400.74 C361.63,399.70 362.97,398.66 364.30,397.62 C365.63,396.58 366.97,395.53 368.30,394.48 C369.63,393.43 370.97,392.38 372.30,391.32 C373.63,390.26 374.97,389.20 376.30,388.13 C377.63,387.06 378.97,385.99 380.30,384.91 C381.63,383.83 382.97,382.75 384.30,381.67 C385.63,380.59 386.97,379.49 388.30,378.40 C389.63,377.31 390.97,376.22 392.30,375.12 C393.63,374.02 394.97,372.92 396.30,371.81 C397.63,370.70 398.97,369.60 400.30,368.49 C401.63,367.38 402.97,366.26 404.30,365.14 C405.63,364.02 406.97,362.90 408.30,361.78 C409.63,360.66 410.97,359.53 412.30,358.40 C413.63,357.27 414.97,356.14 416.30,355.01 C417.63,353.88 418.97,352.74 420.30,351.60 C421.63,350.46 422.97,349.32 424.30,348.18 C425.63,347.04 426.97,345.89 428.30,344.75 C429.63,343.61 430.97,342.46 432.30,341.31 C433.63,340.16 434.97,339.00 436.30,337.85 C437.63,336.70 438.97,335.54 440.30,334.39 C441.63,333.24 442.97,332.09 444.30,330.93 C445.63,329.77 446.97,328.62 448.30,327.46 C449.63,326.30 450.97,325.14 452.30,323.98 C453.63,322.82 454.97,321.66 456.30,320.50 C457.63,319.34 458.97,318.17 460.30,317.01 C461.63,315.85 462.97,314.69 464.30,313.53 C465.63,312.37 466.97,311.20 468.30,310.04 C469.63,308.88 470.97,307.72 472.30,306.56 C473.63,305.40 474.97,304.23 476.30,303.07 C477.63,301.91 478.97,300.75 480.30,299.59 C481.63,298.43 482.97,297.28 484.30,296.12 C485.63,294.96 486.97,293.80 488.30,292.65 C489.63,291.50 490.97,290.34 492.30,289.19 C493.63,288.04 494.97,286.88 496.30,285.73 C497.63,284.58 498.97,283.43 500.30,282.28 C501.63,281.13 502.97,279.99 504.30,278.85 C505.63,277.71 506.97,276.56 508.30,275.42 C509.63,274.28 510.97,273.14 512.30,272.01 C513.63,270.88 514.97,269.74 516.30,268.61 C517.63,267.48 518.97,266.35 520.30,265.22 C521.63,264.09 522.97,262.97 524.30,261.85 C525.63,260.73 526.97,259.62 528.30,258.50 C529.63,257.38 530.97,256.27 532.30,255.16 C533.63,254.05 534.97,252.95 536.30,251.85 C537.63,250.75 538.97,249.65 540.30,248.55 C541.63,247.45 542.97,246.36 544.30,245.27 C545.63,244.18 546.97,243.10 548.30,242.02 C549.63,240.94 550.97,239.86 552.30,238.79 C553.63,237.72 554.97,236.66 556.30,235.59 C557.63,234.53 558.97,233.46 560.30,232.40 C561.63,231.34 562.97,230.29 564.30,229.24 C565.63,228.19 566.97,227.15 568.30,226.11 C569.63,225.07 570.97,224.03 572.30,223.00 C573.63,221.97 574.97,220.94 576.30,219.91 C577.63,218.88 578.97,217.86 580.30,216.84 C581.63,215.82 582.97,214.81 584.30,213.80 C585.63,212.79 586.97,211.78 588.30,210.78 C589.63,209.78 590.97,208.78 592.30,207.78 C593.63,206.78 594.97,205.80 596.30,204.81 C597.63,203.82 598.97,202.85 600.30,201.87 C601.63,200.89 602.97,199.91 604.30,198.94 C605.63,197.97 606.97,197.01 608.30,196.05 C609.63,195.09 610.97,194.12 612.30,193.17 C613.63,192.21 614.97,191.27 616.30,190.32 C617.63,189.37 618.97,188.43 620.30,187.49 C621.63,186.55 622.97,185.62 624.30,184.69 C625.63,183.76 626.97,182.84 628.30,181.92 C629.63,181.00 630.97,180.07 632.30,179.16 C633.63,178.25 634.97,177.34 636.30,176.44 C637.63,175.53 638.97,174.63 640.30,173.73 C641.63,172.83 642.97,171.94 644.30,171.05 C645.63,170.16 646.97,169.28 648.30,168.40 C649.63,167.52 650.97,166.64 652.30,165.77 C653.63,164.90 654.97,164.03 656.30,163.17 C657.63,162.31 658.97,161.44 660.30,160.59 C661.63,159.74 662.97,158.89 664.30,158.04 C665.63,157.19 666.97,156.35 668.30,155.51 C669.63,154.67 670.97,153.83 672.30,153.00 C673.63,152.17 674.97,151.35 676.30,150.53 C677.63,149.71 678.97,148.88 680.30,148.07 C681.63,147.26 682.97,146.45 684.30,145.65 C685.63,144.85 686.97,144.05 688.30,143.25 C689.63,142.45 690.97,141.66 692.30,140.87 C693.63,140.08 694.97,139.30 696.30,138.52 C697.63,137.74 698.97,136.97 700.30,136.20 C701.63,135.43 702.97,134.66 704.30,133.90 C705.63,133.14 706.97,132.38 708.30,131.63 C709.63,130.88 710.97,130.12 712.30,129.38 C713.63,128.63 714.97,127.89 716.30,127.16 C717.63,126.42 718.97,125.70 720.30,124.97 C721.63,124.24 722.97,123.52 724.30,122.80 C725.63,122.08 726.97,121.37 728.30,120.66 C729.63,119.95 730.97,119.24 732.30,118.54 C733.63,117.84 734.97,117.14 736.30,116.45 C737.63,115.76 738.97,115.07 740.30,114.39 C741.63,113.71 742.97,113.03 744.30,112.36 C745.63,111.69 746.97,111.01 748.30,110.35 C749.63,109.69 750.97,109.03 752.30,108.37 C753.63,107.71 754.97,107.06 756.30,106.41 C757.63,105.76 758.97,105.12 760.30,104.48 C761.63,103.84 762.97,103.21 764.30,102.58 C765.63,101.95 766.97,101.33 768.30,100.71 C769.63,100.09 770.97,99.47 772.30,98.86 C773.63,98.25 774.97,97.64 776.30,97.04 C777.63,96.44 778.97,95.84 780.30,95.25 C781.63,94.66 782.97,94.07 784.30,93.49 C785.63,92.91 786.97,92.33 788.30,91.76 C789.63,91.19 790.97,90.61 792.30,90.05 C793.63,89.48 794.97,88.92 796.30,88.37 C797.63,87.82 798.97,87.27 800.30,86.73 C801.63,86.19 802.97,85.64 804.30,85.11 C805.63,84.58 806.97,84.04 808.30,83.52 C809.63,83.00 810.97,82.48 812.30,81.97 C813.63,81.46 814.97,80.94 816.30,80.44 C817.63,79.94 818.97,79.44 820.30,78.94 C821.63,78.44 822.97,77.95 824.30,77.47 C825.63,76.99 826.97,76.51 828.30,76.04 C829.63,75.57 830.97,75.10 832.30,74.64 C833.63,74.18 834.97,73.71 836.30,73.26 C837.63,72.81 838.97,72.36 840.30,71.92 C841.63,71.48 842.97,71.04 844.30,70.61 C845.63,70.18 846.97,69.75 848.30,69.33 C849.63,68.91 850.97,68.50 852.30,68.09 C853.63,67.68 854.97,67.28 856.30,66.88 C857.63,66.48 858.97,66.09 860.30,65.70 C861.63,65.31 862.97,64.93 864.30,64.55 C865.63,64.17 866.97,63.80 868.30,63.44 C869.63,63.07 870.97,62.71 872.30,62.36 C873.63,62.01 874.97,61.65 876.30,61.31 C877.63,60.97 878.97,60.63 880.30,60.30 C881.63,59.97 882.97,59.65 884.30,59.33 C885.63,59.01 886.97,58.69 888.30,58.38 C889.63,58.07 890.97,57.78 892.30,57.48 C893.63,57.18 894.97,56.88 896.30,56.60 C897.63,56.32 898.97,56.04 900.30,55.77 C901.63,55.50 902.97,55.22 904.30,54.96 C905.63,54.70 906.97,54.45 908.30,54.20 C909.63,53.95 910.97,53.71 912.30,53.47 C913.63,53.23 914.97,53.00 916.30,52.77 C917.63,52.55 918.97,52.33 920.30,52.12 C921.63,51.91 922.97,51.70 924.30,51.50 C925.63,51.30 926.97,51.10 928.30,50.91 C929.63,50.72 930.97,50.53 932.30,50.36 C933.63,50.19 934.97,50.02 936.30,49.86 C937.63,49.70 938.97,49.53 940.30,49.38 C941.63,49.23 942.97,49.09 944.30,48.95 C945.63,48.81 946.97,48.67 948.30,48.55 C949.63,48.42 950.97,48.31 952.30,48.20 C953.63,48.09 954.97,47.98 956.30,47.88 C957.63,47.78 958.97,47.69 960.30,47.60 C961.63,47.51 962.97,47.43 964.30,47.36 C965.63,47.29 966.97,47.22 968.30,47.16 C969.63,47.10 970.97,47.05 972.30,47.00 C973.63,46.95 975.63,46.90 976.30,46.88" fill="none" stroke="#c8000a" stroke-width="3.2" stroke-dasharray="14 10.532" stroke-dashoffset="2.27"/>
<g font-family="'Liberation Serif', 'Times New Roman', Times, serif" font-weight="bold" font-size="26" fill="#000"><text transform="translate(155.19,689.40) scale(0.975,1.100)" text-anchor="middle">2020</text><text transform="translate(360.37,689.40) scale(0.975,1.100)" text-anchor="middle">2040</text><text transform="translate(565.55,689.40) scale(0.975,1.100)" text-anchor="middle">2060</text><text transform="translate(770.72,689.40) scale(0.975,1.100)" text-anchor="middle">2080</text><text transform="translate(975.90,689.40) scale(0.975,1.100)" text-anchor="middle">2100</text><text transform="translate(90.20,600.68) scale(0.975,1.045)" text-anchor="end">400</text><text transform="translate(90.20,332.10) scale(0.975,1.045)" text-anchor="end">500</text><text transform="translate(90.20,63.52) scale(0.975,1.045)" text-anchor="end">600</text></g>
<g font-family="'Liberation Serif', 'Times New Roman', Times, serif" font-weight="bold" font-size="26"><text transform="translate(508.80,173.20) scale(1.010,1.060)" fill="#c8000a">245, IPCC</text><text transform="translate(507.60,355.10) scale(1.000,1.030)" fill="#c8000a">245, model</text><text transform="translate(638.60,434.10) scale(1.000,1.060)" fill="#0000c8">126, IPCC</text><text transform="translate(634.40,594.40) scale(1.000,1.000)" fill="#0000c8">126, model</text></g>
<g font-family="'Liberation Serif', 'Times New Roman', Times, serif" font-weight="bold" font-size="35" fill="#000"><text x="537.5" y="743.5" text-anchor="middle">year</text><text transform="translate(24,353) rotate(-90)" text-anchor="middle">atmospheric CO2 concentration (ppm)</text></g>
</svg>
</body></html>
